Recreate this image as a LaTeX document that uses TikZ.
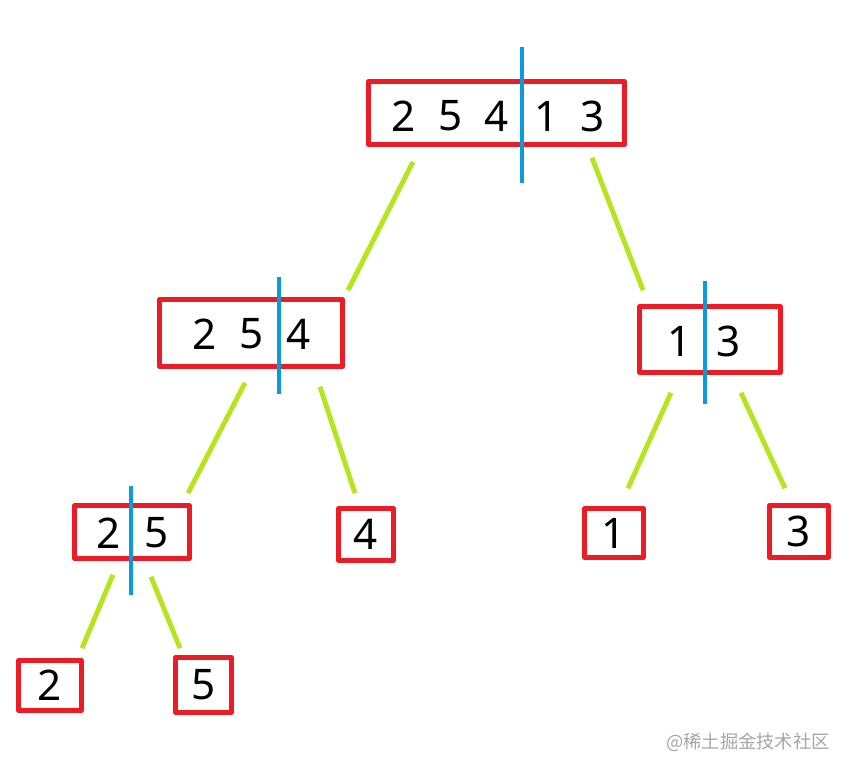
\documentclass[tikz,border=0pt]{standalone}
\usepackage{fontspec}
\setmainfont{Noto Sans}
\newfontfamily\cjk{Noto Sans CJK SC}
\usepackage{tikz}
\definecolor{boxred}{HTML}{ED1C24}
\definecolor{splitblue}{HTML}{0A9BDC}
\definecolor{branchgreen}{HTML}{B5E61D}
\definecolor{markgray}{HTML}{A6A6A6}

\begin{document}
\begin{tikzpicture}[line cap=round,line join=round,x=0.02cm,y=-0.02cm,
  cell/.style 2 args={draw=boxred,line width=2.6pt,inner sep=0pt,
    minimum width=#1*0.02cm,minimum height=#2*0.02cm,font=\fontsize{24}{24}\selectfont},
  digit/.style={inner sep=0pt,font=\fontsize{24}{24}\selectfont},
  split/.style={draw=splitblue,line width=2.6pt,line cap=butt},
  branch/.style={draw=branchgreen,line width=2.8pt,line cap=butt}]
\useasboundingbox (0,0) rectangle (850,775);
% boxes
\node[cell={256}{63}] (top) at (496.5,113) {};
\node[cell={183}{67}] (lft) at (251,333) {};
\node[cell={141}{66}] (rgt) at (710,339.5) {};
\node[cell={115}{53}] (mid) at (132,532) {};
\node[cell={55}{52}] (four) at (366,534.5) {4};
\node[cell={59}{49}] (one) at (614,533) {1};
\node[cell={59}{52}] (three) at (799,531.5) {3};
\node[cell={63}{50}] (two) at (50,685.5) {2};
\node[cell={56}{55}] (five) at (203.5,685) {5};
% digits
\node[digit] (t2) at (404,116) {2};
\node[digit] (t5) at (451,116) {5};
\node[digit] (t4) at (497,116) {4};
\node[digit] (t1) at (547,116) {1};
\node[digit] (t3) at (593,116) {3};
\node[digit] (l2) at (205,334) {2};
\node[digit] (l5) at (252,334) {5};
\node[digit] (l4) at (299,334) {4};
\node[digit] (r1) at (680,341) {1};
\node[digit] (r3) at (729,341) {3};
\node[digit] (m2) at (109,533) {2};
\node[digit] (m5) at (157,533) {5};
% split lines
\draw[split] (522,47)--(522,183);
\draw[split] (279,277)--(279,394);
\draw[split] (705,281)--(705,404);
\draw[split] (131,486)--(131,595);
% branches
\draw[branch] ([shift={(-83.5,15)}]top.south)--([shift={(97,-7)}]lft.north);
\draw[branch] ([shift={(95.5,11)}]top.south)--([shift={(-67,-14)}]rgt.north);
\draw[branch] ([shift={(-6,14)}]lft.south)--([shift={(56,-10)}]mid.north);
\draw[branch] ([shift={(69,18)}]lft.south)--([shift={(-11,-13)}]four.north);
\draw[branch] ([shift={(-39,18)}]rgt.south)--([shift={(14,-18)}]one.north);
\draw[branch] ([shift={(31,18)}]rgt.south)--([shift={(-14,-15)}]three.north);
\draw[branch] ([shift={(-19,14)}]mid.south)--([shift={(32,-10)}]two.north);
\draw[branch] ([shift={(19,16)}]mid.south)--([shift={(-23.5,-7)}]five.north);
% watermark
\node[text=markgray,font=\cjk\fontsize{10.4}{10.4}\selectfont] (mark) at (748,742) {@稀土掘金技术社区};
\end{tikzpicture}
\end{document}
